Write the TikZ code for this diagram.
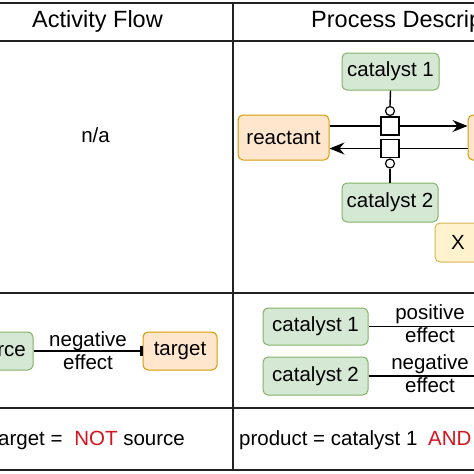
\documentclass[tikz,border=0pt]{standalone}
\usepackage{fontspec}
\setmainfont{Liberation Sans}
\usetikzlibrary{arrows.meta}
\definecolor{gfill}{HTML}{D5E8D4}
\definecolor{gline}{HTML}{82B366}
\definecolor{ofill}{HTML}{FFE6CC}
\definecolor{oline}{HTML}{D79B00}
\definecolor{yfill}{HTML}{FFF2CC}
\definecolor{yline}{HTML}{D6B656}
\definecolor{txtred}{RGB}{214,20,30}
\definecolor{rule}{HTML}{222222}
\begin{document}
\begin{tikzpicture}[x=1pt,y=-1pt,
  bodyfont/.style={font=\fontsize{20.5}{23}\selectfont},
  box/.style={draw, rounded corners=5pt, line width=1pt, inner sep=0pt, bodyfont},
  gbox/.style={box, fill=gfill, draw=gline},
  obox/.style={box, fill=ofill, draw=oline},
  ybox/.style={box, fill=yfill, draw=yline},
  sqbox/.style={draw, fill=white, line width=1.2pt, minimum size=18pt, inner sep=0pt},
  ringnode/.style={circle, draw, fill=white, line width=1.2pt, minimum size=9pt, inner sep=0pt},
  conn/.style={line width=1.4pt},
  arr/.style={conn, -{Stealth[length=15pt,width=12pt,inset=5pt]}},
  tablerule/.style={line width=2pt, draw=rule},
  lbl/.style={bodyfont, align=center, inner sep=0pt}
]
\useasboundingbox (0,0) rectangle (474,474);
\fill[white] (0,0) rectangle (474,474);
\clip (0,0) rectangle (474,474);

% table rules
\draw[tablerule] (-10,3) -- (484,3);
\draw[tablerule] (-10,41) -- (484,41);
\draw[tablerule] (-10,293) -- (484,293);
\draw[tablerule] (-10,408) -- (484,408);
\draw[tablerule] (-10,470) -- (484,470);
\draw[tablerule] (233,3) -- (233,470);

% headers
\node[font=\fontsize{23.5}{26}\selectfont, inner sep=0pt] (h1) at (97.5,21) {Activity Flow};
\node[font=\fontsize{23.5}{26}\selectfont, inner sep=0pt, anchor=west] (h2) at (311,21) {Process Description};

% row 1 left
\node[bodyfont, inner sep=0pt] (na) at (95.5,135) {n/a};

% row 1 right
\node[gbox, minimum width=97pt, minimum height=37pt] (c1) at (390.5,71.5) {catalyst 1};
\node[gbox, minimum width=96pt, minimum height=39pt] (c2) at (390,202.5) {catalyst 2};
\node[obox, minimum width=91pt, minimum height=45pt] (re) at (283.5,137.5) {reactant};
\node[obox, minimum width=91pt, minimum height=45pt] (pr) at (513.5,137.5) {product};
\node[ybox, minimum width=46pt, minimum height=39pt] (xx) at (458,242.5) {X};
\node[sqbox] (s1) at (390,126) {};
\node[sqbox] (s2) at (390,148.5) {};
\node[ringnode] (o1) at (390,111) {};
\node[ringnode] (o2) at (390,163.5) {};

\draw[conn] (re.east |- s1) -- (s1.west);
\draw[arr] (s1.east) -- (pr.west |- s1);
\draw[conn] (pr.west |- s2) -- (s2.east);
\draw[arr] (s2.west) -- (re.east |- s2);
\draw[conn] (c1.south) -- (o1.north);
\draw[conn] (c2.north) -- (o2.south);

% row 2 left
\node[gbox, minimum width=76pt, minimum height=38pt] (src) at (-5,351) {source};
\node[obox, minimum width=74pt, minimum height=38pt] (tg) at (180,351) {target};
\draw[conn, -{Bar[width=10pt,line width=2.5pt]}] (src.east) -- (tg.west)
  node[lbl, midway] (neg1) {negative\\effect};

% row 2 right
\node[gbox, minimum width=105pt, minimum height=37pt] (k1) at (315.5,326.5) {catalyst 1};
\node[gbox, minimum width=105pt, minimum height=38pt] (k2) at (315.5,376) {catalyst 2};
\coordinate (e1) at (490,327);
\coordinate (e2) at (490,377);
\draw[conn] (k1.east) -- (k1.east -| e1);
\draw[conn] (k2.east) -- (k2.east -| e2);
\node[lbl] (pos) at (430,324) {positive\\effect};
\node[lbl] (neg2) at (430,374) {negative\\effect};

% row 3
\node[bodyfont, inner sep=0pt, anchor=east] (f1) at (185,440) {target =\hspace{6pt} \textcolor{txtred}{NOT} source};
\node[bodyfont, inner sep=0pt, anchor=west] (f2) at (239,440) {product = catalyst 1\hspace{5pt} \textcolor{txtred}{AND}};
\end{tikzpicture}
\end{document}
